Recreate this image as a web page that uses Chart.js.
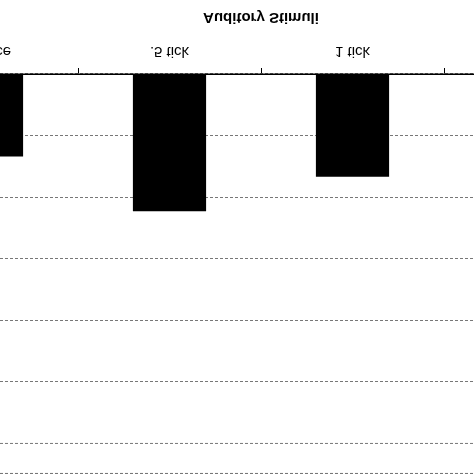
<!DOCTYPE html>
<html><head><meta charset="utf-8">
<script src="https://cdn.jsdelivr.net/npm/chart.js@4"></script>
<style>
html,body{margin:0;padding:0;width:474px;height:474px;overflow:hidden;background:#fff}
#wrap{position:absolute;left:-105px;top:0;width:732px;height:474px;transform:scaleY(-1)}
</style></head><body>
<div id="wrap"><canvas id="c"></canvas></div>
<script>
// Reference is a vertically mirrored scan: draw normally, then flip with CSS.
const categories = ["Silence", ".5 tick", "1 tick", ""];
const values = [1.34, 2.23, 1.67, null];

new Chart(document.getElementById("c"), {
  type: "bar",
  data: { labels: categories, datasets: [{ data: values, backgroundColor: "#000", barPercentage: 0.4, categoryPercentage: 1 }] },
  options: {
    responsive: true, maintainAspectRatio: false, animation: false,
    layout: { padding: 0 },
    plugins: {
      legend: { display: false }, tooltip: { enabled: false },
      title: { display: true, text: "Auditory Stimuli", position: "bottom", color: "#000",
        font: { family: "Arial, Liberation Sans", size: 15, weight: "bold" }, padding: { top: 8, bottom: 8 } }
    },
    scales: {
      x: { grid: { display: true, drawOnChartArea: false, color: "#000", tickLength: 6 },
        border: { color: "#000", width: 1.5 },
        ticks: { color: "#000", font: { family: "Arial, Liberation Sans", size: 15 }, padding: 8 } },
      y: { min: 0, max: 6.5, display: true,
        ticks: { display: false, stepSize: 1 },
        grid: { color: "#777", lineWidth: 1, drawTicks: false },
        border: { display: false, dash: [3, 2] } }
    }
  }
});
</script></body></html>
